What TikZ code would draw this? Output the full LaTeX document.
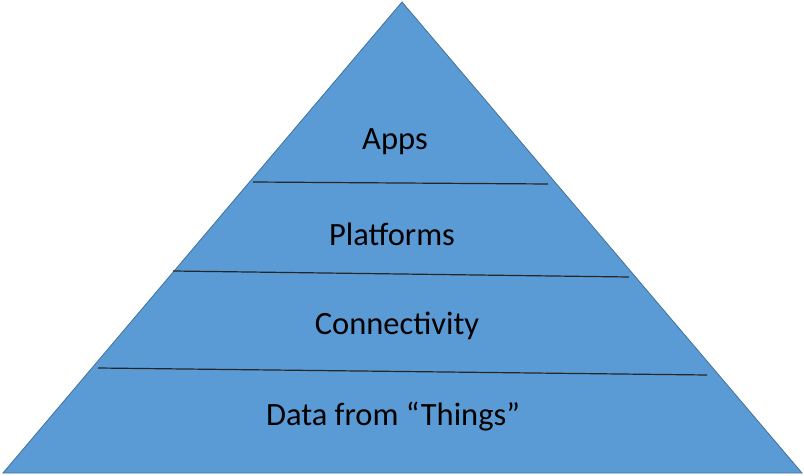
\documentclass[tikz,border=0pt]{standalone}
\usepackage{fontspec}
\setmainfont{Carlito}
\usepackage{tikz}
\usetikzlibrary{positioning}
\definecolor{layerblue}{HTML}{5B9BD5}
\definecolor{edgeblue}{HTML}{41719C}

\begin{document}
\begin{tikzpicture}[
    x=1pt, y=-1pt,
    layer/.style={font=\fontsize{32.5}{36}\selectfont, text=black, inner sep=0pt},
    divider/.style={line width=1.2pt, draw=black!85}
]
\useasboundingbox (0,0) rectangle (804,476);

% Pyramid outline
\coordinate (apex) at (402,2);
\coordinate (baseL) at (3,473);
\coordinate (baseR) at (802,473);
\filldraw[fill=layerblue, draw=edgeblue, line width=0.8pt] (apex) -- (baseR) -- (baseL) -- cycle;

% Layer dividers
\draw[divider] (253,182) -- (548,184);
\draw[divider] (173,271) -- (629,277);
\draw[divider] (98,368) -- (707,375);

% Layer labels
\node[layer] (apps) at (395,142) {Apps};
\node[layer] (platforms) at (392,234) {Platforms};
\node[layer] (connect) at (397,326) {Connectivity};
\node[layer] (things) at (393,417) {Data from “Things”};

\end{tikzpicture}
\end{document}
